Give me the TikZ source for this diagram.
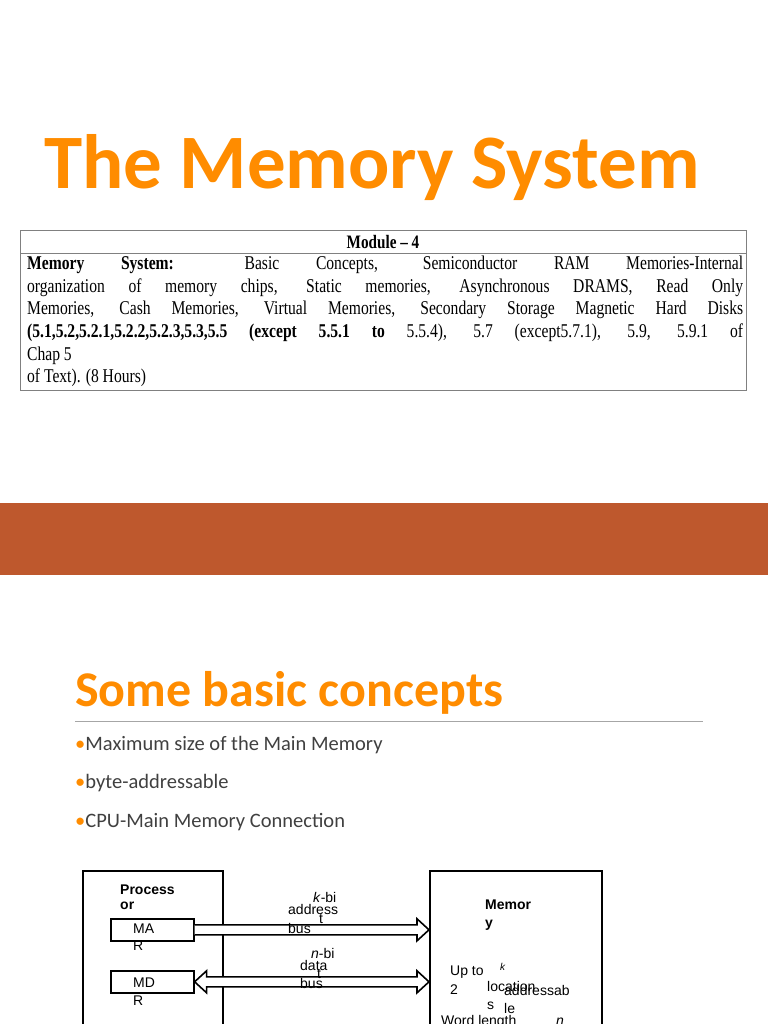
\documentclass[tikz,border=0pt]{standalone}
\usepackage{fontspec}
\setmainfont{Carlito}
\newfontfamily\tabfont{Liberation Serif}
\newfontfamily\figfont{Liberation Sans}
\usetikzlibrary{positioning,calc}
\definecolor{titleorange}{RGB}{255,140,0}
\definecolor{bandrust}{RGB}{190,88,45}
\definecolor{bodygray}{RGB}{64,64,64}
\begin{document}
\begin{tikzpicture}[x=1pt,y=-1pt]
    \tikzstyle{bullet}=[anchor=west,inner sep=0pt,text=bodygray,font=\fontsize{20.5}{22}\selectfont]
    \tikzstyle{box}=[draw,line width=1.6pt,anchor=north west,inner sep=0pt]
    \tikzstyle{lbl}=[inner sep=0pt,font=\figfont\fontsize{14}{14}\selectfont]
    \useasboundingbox (0,0) rectangle (768,1024);
    \clip (0,0) rectangle (768,1024);

    % Title
    \node[text=titleorange,font=\bfseries\fontsize{77}{80}\selectfont] (title) at (372,168) {The Memory System};

    % Module table
    \draw[gray] (20,230) rectangle (746,390);
    \draw[gray] (20,253) -- (746,253);
    \node[inner sep=0pt,font=\tabfont\bfseries\fontsize{19}{19}\selectfont,xscale=0.8,transform shape] (modhead) at (383,242) {Module – 4};
    \node[anchor=north west,inner sep=0pt,text width=895pt,align=justify,xscale=0.8,transform shape,
          font=\tabfont\fontsize{19.5}{22.6}\selectfont] (modbody) at (27,256)
    {\textbf{Memory System:} Basic Concepts, Semiconductor RAM Memories-Internal\linebreak
     organization of memory chips, Static memories, Asynchronous DRAMS, Read Only\linebreak
     Memories, Cash Memories, Virtual Memories, Secondary Storage Magnetic Hard Disks\linebreak
     \textbf{(5.1,5.2,5.2.1,5.2.2,5.2.3,5.3,5.5 (except 5.5.1 to} 5.5.4), 5.7 (except5.7.1), 5.9, 5.9.1 of\linebreak
     Chap 5\\
     of Text). (8 Hours)};

    % Band
    \fill[bandrust] (0,503) rectangle (768,575);

    % Section heading
    \node[anchor=base west,inner sep=0pt,text=titleorange,font=\bfseries\fontsize{50}{52}\selectfont] (sub) at (75,706) {Some basic concepts};
    \draw[gray!70] (75,721) -- (703,721);
    \node[bullet] (b1) at (75,745) {{\color{titleorange}\textbullet}Maximum size of the Main Memory};
    \node[bullet] (b2) at (75,783) {{\color{titleorange}\textbullet}byte-addressable};
    \node[bullet] (b3) at (75,822) {{\color{titleorange}\textbullet}CPU-Main Memory Connection};

    % CPU--memory diagram
    \node[box,minimum width=140pt,minimum height=200pt] (cpu) at (82,870) {};
    \node[box,minimum width=172pt,minimum height=200pt] (mem) at (429,870) {};
    \node[box,fill=white,minimum width=83pt,minimum height=22pt] (mar) at (110,918) {};
    \node[box,fill=white,minimum width=83pt,minimum height=22pt] (mdr) at (110,970) {};

    % address bus (hollow arrow)
    \draw[line width=1.6pt,fill=white] ($(mar.east)+(0,-5)$) -- ($(mem.west |- mar.east)+(-12,-5)$) -- ++(0,-6)
        -- (mem.west |- mar.east) -- ($(mem.west |- mar.east)+(-12,11)$) -- ++(0,-6)
        -- ($(mar.east)+(0,5)$);
    % data bus (hollow double arrow)
    \draw[line width=1.6pt,fill=white] ($(mdr.east)+(12,-5)$) -- ($(mem.west |- mdr.east)+(-12,-5)$) -- ++(0,-6)
        -- (mem.west |- mdr.east) -- ($(mem.west |- mdr.east)+(-12,11)$) -- ++(0,-6)
        -- ($(mdr.east)+(12,5)$) -- ++(0,6) -- (mdr.east) -- ($(mdr.east)+(12,-11)$) -- cycle;

    % labels
    \node[lbl,font=\figfont\bfseries\fontsize{14}{14}\selectfont,anchor=west] (cpulbl) at (120,890) {Process};
    \node[lbl,font=\figfont\bfseries\fontsize{14}{14}\selectfont,anchor=west] (cpulbl2) at (120,906) {or};
    \node[lbl,anchor=west] (marl) at (133,929) {MA};
    \node[lbl,anchor=west] (marl2) at (133,946) {R};
    \node[lbl,anchor=west] (mdrl) at (133,983) {MD};
    \node[lbl,anchor=west] (mdrl2) at (133,1001) {R};
    \node[lbl,anchor=west,font=\figfont\bfseries\fontsize{14}{14}\selectfont] (meml) at (485,905) {Memor};
    \node[lbl,anchor=west,font=\figfont\bfseries\fontsize{14}{14}\selectfont] (meml2) at (485,925) {y};
    \node[lbl,anchor=west] (kbit) at (313,897) {\textit{k}-bi};
    \node[lbl,anchor=west] (addr) at (288,909) {address};
    \node[lbl,anchor=west] (kt) at (319,919) {t};
    \node[lbl,anchor=west] (abus) at (288,928) {bus};
    \node[lbl,anchor=west] (nbit) at (311,953) {\textit{n}-bi};
    \node[lbl,anchor=west] (data) at (300,965) {data};
    \node[lbl,anchor=west] (nt) at (317,974) {t};
    \node[lbl,anchor=west] (dbus) at (300,983) {bus};
    \node[lbl,anchor=west] (upto) at (450,972) {Up to};
    \node[lbl,anchor=west,font=\figfont\itshape\fontsize{10}{10}\selectfont] (kexp) at (500,967) {k};
    \node[lbl,anchor=west] (two) at (450,990) {2};
    \node[lbl,anchor=west] (loc) at (487,986) {location};
    \node[lbl,anchor=west] (loc2) at (487,1006) {s};
    \node[lbl,anchor=west] (adb) at (504,990) {addressab};
    \node[lbl,anchor=west] (adb2) at (504,1008) {le};
    \node[lbl,anchor=west] (wlen) at (441,1022) {Word length};
    \node[lbl,anchor=west,font=\figfont\itshape\fontsize{14}{14}\selectfont] (wn) at (556,1022) {n};
\end{tikzpicture}
\end{document}
